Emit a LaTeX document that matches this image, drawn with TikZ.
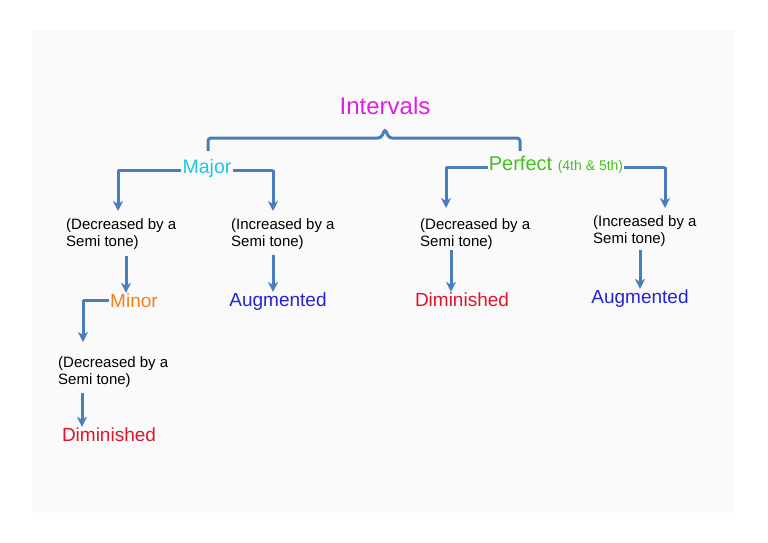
\documentclass[tikz,border=0pt]{standalone}
\usepackage{fontspec}
\setmainfont{Liberation Sans}
\usetikzlibrary{arrows.meta}
\definecolor{conn}{HTML}{4A7EBB}
\definecolor{cInt}{HTML}{E020E0}
\definecolor{cMaj}{HTML}{22C4E4}
\definecolor{cPer}{HTML}{44C020}
\definecolor{cMin}{HTML}{F08020}
\definecolor{cAug}{HTML}{2424D4}
\definecolor{cDim}{HTML}{E01428}
\tikzset{
  conn/.style={draw=conn, line width=3pt},
  arr/.style={conn, -{Stealth[length=10pt, width=10pt, inset=3pt]}},
  note/.style={font=\fontsize{15pt}{17pt}\selectfont, align=left, inner sep=0pt, anchor=north west},
  res/.style={font=\fontsize{19pt}{21pt}\selectfont, inner sep=1pt},
}
\begin{document}
\begin{tikzpicture}[x=1pt, y=-1pt]
\useasboundingbox (0,0) rectangle (768,543);
\fill[black!2] (32,30) rectangle (735,513);

\node (int) [res, text=cInt, font=\fontsize{24pt}{26pt}\selectfont] at (385,106) {Intervals};
\draw[conn, rounded corners=3pt] (208,151) -- (208,138) -- (381,138) -- (385,129) -- (389,138) -- (520,138) -- (520,151);

% Major branch
\node (maj) [res, text=cMaj, font=\fontsize{19.5pt}{21pt}\selectfont] at (207,168) {Major};
\coordinate (majL) at (118,170);
\coordinate (majR) at (273,170);
\draw[conn] (maj.west |- majL) -- (majL);
\draw[conn] (maj.east |- majL) -- (majR);
\node (d1) [note] at (66,218) {(Decreased by a\\Semi tone)};
\node (i1) [note] at (231,218) {(Increased by a\\Semi tone)};
\draw[arr] (majL) -- (118,211);
\draw[arr] (majR) -- (273,211);

\node (min) [res, text=cMin] at (134,301) {Minor};
\node (aug1) [res, text=cAug] at (278,302) {Augmented};
\draw[arr] (126,256) -- (min.north -| 126,0);
\draw[arr] (273,255) -- (aug1.north -| 273,0);

\coordinate (minL) at (83,300);
\draw[conn] (min.west |- minL) -- (minL);
\draw[arr] (minL) -- (83,342);
\node (d2) [note] at (58,356) {(Decreased by a\\Semi tone)};
\node (dim1) [res, text=cDim] at (109,435) {Diminished};
\draw[arr] (82,393) -- (dim1.north -| 82,0);

% Perfect branch
\node (per) [res, text=cPer, font=\fontsize{20pt}{22pt}\selectfont] at (556,165)
  {Perfect {\fontsize{14pt}{16pt}\selectfont (4th \& 5th)}};
\coordinate (perL) at (446,167);
\coordinate (perR) at (665,167);
\draw[conn] (per.west |- perL) -- (perL);
\draw[conn] (per.east |- perR) -- (perR);
\draw[arr] (perL) -- (446,208);
\draw[arr] (perR) -- (665,208);
\node (d3) [note] at (420,218) {(Decreased by a\\Semi tone)};
\node (i2) [note] at (593,215) {(Increased by a\\Semi tone)};
\node (dim2) [res, text=cDim] at (462,300) {Diminished};
\node (aug2) [res, text=cAug] at (640,299) {Augmented};
\draw[arr] (451,250) -- (dim2.north -| 451,0);
\draw[arr] (640,250) -- (aug2.north -| 640,0);
\end{tikzpicture}
\end{document}
